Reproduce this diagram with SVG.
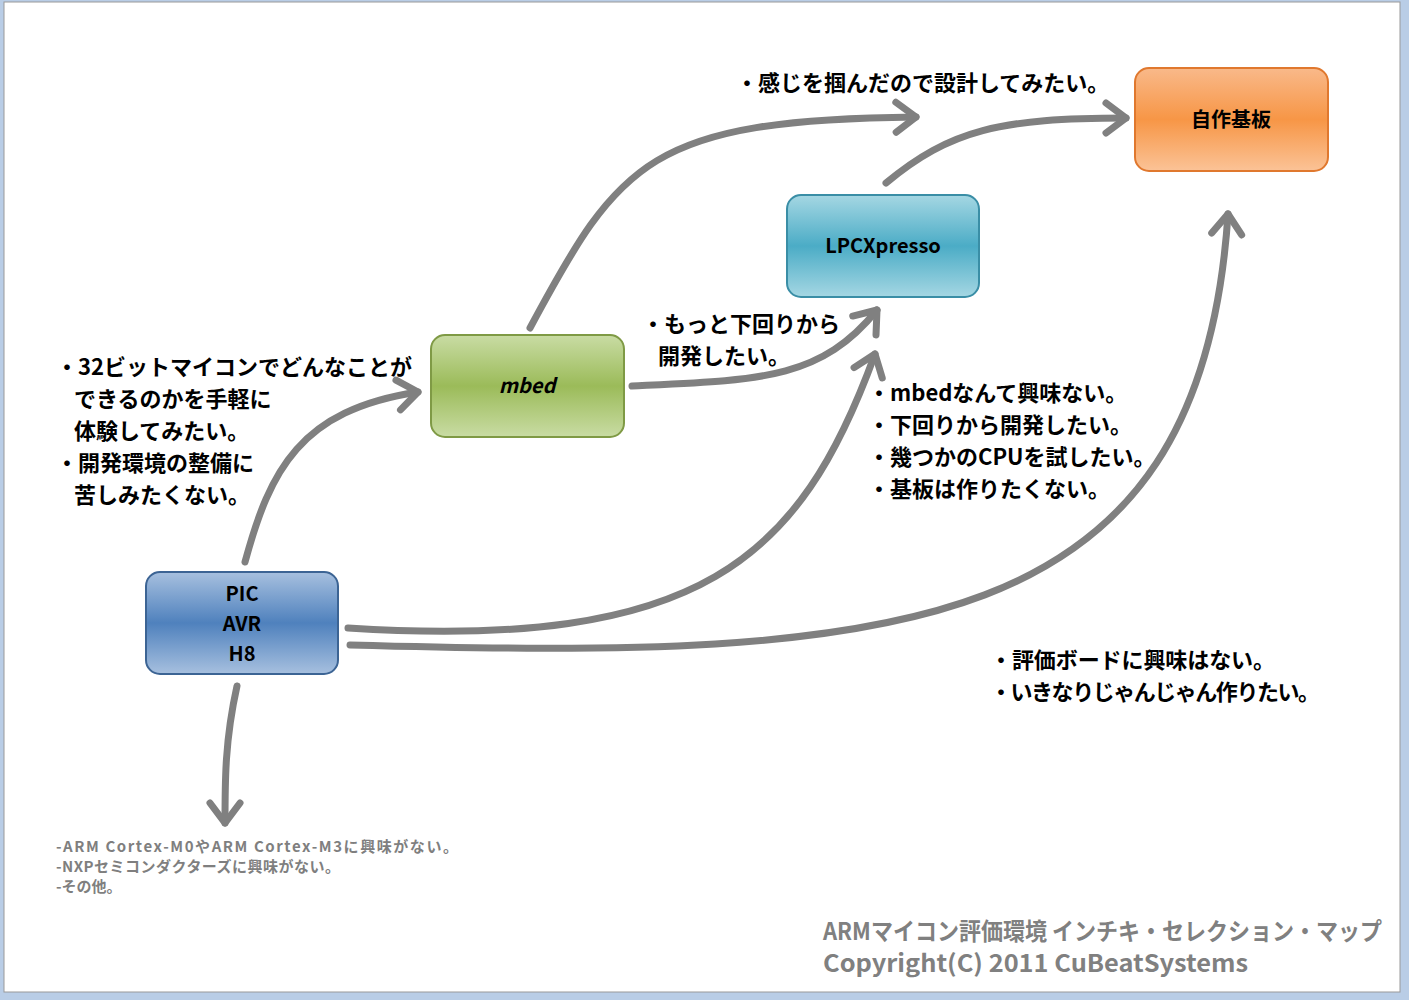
<svg xmlns="http://www.w3.org/2000/svg" width="1409" height="1000" viewBox="0 0 1409 1000">
<defs>
<style>
text{font-family:"Noto Sans CJK JP","Liberation Sans",sans-serif;font-weight:bold}
.lbl{font-size:22px;fill:#000}
.node{font-size:20px;fill:#000;text-anchor:middle}
.small{font-size:15px;fill:#7f7f7f}
.foot{font-size:24px;fill:#808080}
.con{fill:none;stroke:#808080;stroke-width:7;stroke-linecap:round;marker-end:url(#ah)}
</style>
<marker id="ah" markerUnits="userSpaceOnUse" markerWidth="40" markerHeight="40" refX="32" refY="20" orient="auto" viewBox="0 0 40 40">
<path d="M12,5 L32,20 L12,35" fill="none" stroke="#808080" stroke-width="7" stroke-linecap="round" stroke-linejoin="round"/>
</marker>
<linearGradient id="gO" x1="0" y1="0" x2="0" y2="1"><stop offset="0" stop-color="#f9b98a"/><stop offset="0.5" stop-color="#f79646"/><stop offset="1" stop-color="#fbc397"/></linearGradient>
<linearGradient id="gC" x1="0" y1="0" x2="0" y2="1"><stop offset="0" stop-color="#a5d7e3"/><stop offset="0.5" stop-color="#4bacc6"/><stop offset="1" stop-color="#a5d7e3"/></linearGradient>
<linearGradient id="gG" x1="0" y1="0" x2="0" y2="1"><stop offset="0" stop-color="#c9dca4"/><stop offset="0.5" stop-color="#9bbb59"/><stop offset="1" stop-color="#c9dca4"/></linearGradient>
<linearGradient id="gB" x1="0" y1="0" x2="0" y2="1"><stop offset="0" stop-color="#a7c0df"/><stop offset="0.5" stop-color="#4f81bd"/><stop offset="1" stop-color="#a7c0df"/></linearGradient>
</defs>
<rect width="1409" height="1000" fill="#b9cde6"/>
<rect x="4" y="2" width="1396" height="990" fill="#fff" stroke="#999" stroke-width="1"/>
<g id="connectors">
<path class="con" d="M245,562 C270,470 300,410 418,392"/>
<path class="con" d="M530,328 C620,160 650,120 916,117"/>
<path class="con" d="M886,183 C950,130 1000,118 1126,118"/>
<path class="con" d="M632,386 C760,380 820,380 877,310"/>
<path class="con" d="M348,628 C700,650 800,560 875,354"/>
<path class="con" d="M350,645 C900,660 1200,640 1228,214"/>
<path class="con" d="M237,686 C225,740 225,780 225,823"/>
</g>
<g id="n-kiban"><rect x="1135" y="68" width="193" height="103" rx="14" fill="url(#gO)" stroke="#e0782e" stroke-width="2"/><text class="node" x="1231" y="127">自作基板</text></g>
<g id="n-lpc"><rect x="787" y="195" width="192" height="102" rx="14" fill="url(#gC)" stroke="#3a8ea6" stroke-width="2"/><text class="node" x="883" y="253">LPCXpresso</text></g>
<g id="n-mbed"><rect x="431" y="335" width="193" height="102" rx="14" fill="url(#gG)" stroke="#7f9a45" stroke-width="2"/><text class="node" x="527" y="393" font-style="italic">mbed</text></g>
<g id="n-pic"><rect x="146" y="572" width="192" height="102" rx="14" fill="url(#gB)" stroke="#3c6494" stroke-width="2"/><text class="node" x="242" y="601">PIC</text><text class="node" x="242" y="631">AVR</text><text class="node" x="242" y="661">H8</text></g>
<g id="labels">
<text class="lbl" x="736" y="91">・感じを掴んだので設計してみたい。</text>
<text class="lbl" x="642" y="332">・もっと下回りから</text>
<text class="lbl" x="658" y="364">開発したい。</text>
<text class="lbl" x="56" y="375">・32ビットマイコンでどんなことが</text>
<text class="lbl" x="74" y="407">できるのかを手軽に</text>
<text class="lbl" x="74" y="439">体験してみたい。</text>
<text class="lbl" x="56" y="471">・開発環境の整備に</text>
<text class="lbl" x="74" y="503">苦しみたくない。</text>
<text class="lbl" x="868" y="401">・mbedなんて興味ない。</text>
<text class="lbl" x="868" y="433">・下回りから開発したい。</text>
<text class="lbl" x="868" y="465">・幾つかのCPUを試したい。</text>
<text class="lbl" x="868" y="497">・基板は作りたくない。</text>
<text class="lbl" x="990" y="668" textLength="285">・評価ボードに興味はない。</text>
<text class="lbl" x="990" y="700" textLength="330">・いきなりじゃんじゃん作りたい。</text>
<text class="small" x="56" y="852" textLength="402">-ARM Cortex-M0やARM Cortex-M3に興味がない。</text>
<text class="small" x="56" y="872" textLength="284">-NXPセミコンダクターズに興味がない。</text>
<text class="small" x="56" y="892">-その他。</text>
<text class="foot" x="823" y="940" textLength="559" lengthAdjust="spacingAndGlyphs">ARMマイコン評価環境  インチキ・セレクション・マップ</text>
<text class="foot" x="823" y="972" textLength="425" lengthAdjust="spacingAndGlyphs">Copyright(C) 2011 CuBeatSystems</text>
</g>
</svg>
